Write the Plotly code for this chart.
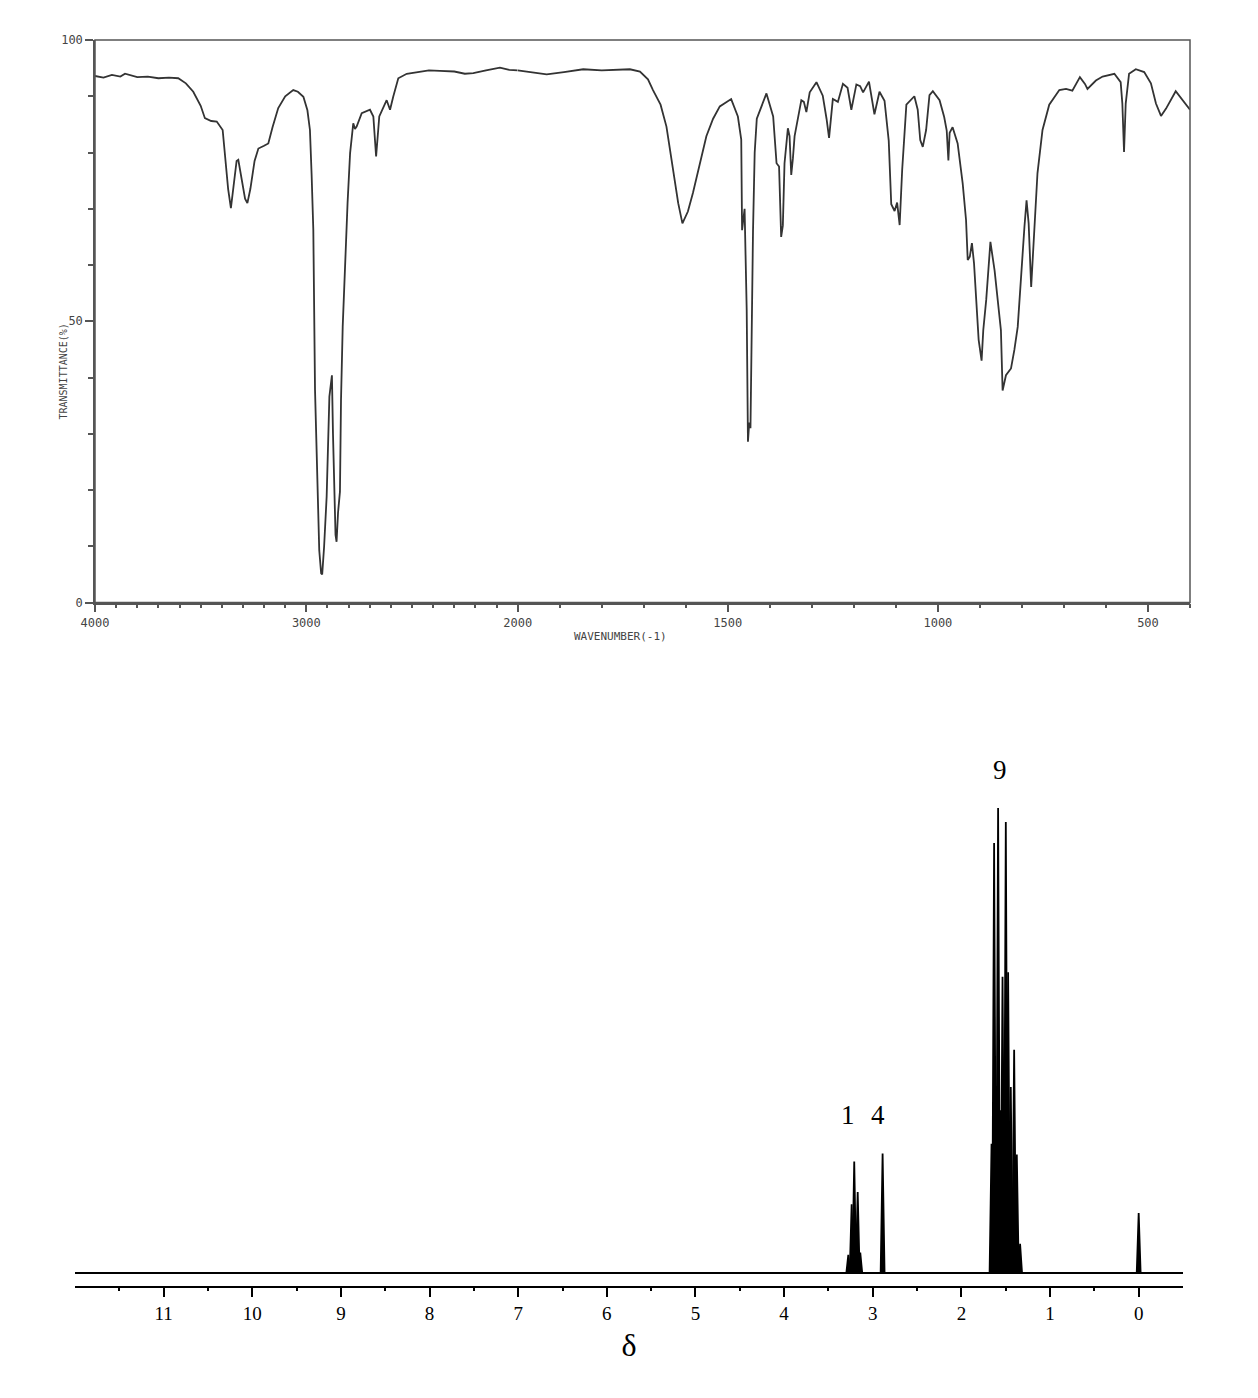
import plotly.graph_objects as go

# IR spectrum (wavenumber in cm-1, transmittance in %)
ir_wavenumber = [
    4000, 3960, 3920, 3880, 3858, 3800, 3750, 3700, 3650, 3606, 3570, 3535,
    3500, 3480, 3450, 3424, 3396, 3385, 3370, 3357, 3345, 3330, 3322, 3305,
    3290, 3279, 3265, 3245, 3227, 3200, 3180, 3160, 3133, 3100, 3062, 3040,
    3014, 2995, 2983, 2975, 2967, 2959, 2948, 2939, 2930, 2925, 2916, 2904,
    2891, 2879, 2874, 2869, 2862, 2857, 2850, 2841, 2836, 2828, 2817, 2805,
    2793, 2778, 2770, 2762, 2738, 2699, 2683, 2670, 2660, 2655, 2620, 2604,
    2589, 2565, 2525, 2480, 2420, 2368, 2300, 2250, 2210, 2150, 2084, 2040,
    2000,
    1960, 1931, 1890, 1844, 1800, 1733, 1709, 1690, 1678, 1660, 1646, 1630,
    1618, 1608, 1595, 1583, 1565, 1551, 1535, 1519, 1492, 1476, 1468, 1466,
    1460, 1455, 1452, 1449, 1446, 1443, 1440, 1436, 1431, 1408, 1392, 1384,
    1378, 1373, 1369, 1365, 1357, 1353, 1349, 1345, 1341, 1325, 1319, 1313,
    1305, 1289, 1274, 1265, 1259, 1250, 1238, 1226, 1215, 1206, 1194, 1185,
    1178, 1164, 1151, 1139, 1127, 1117, 1111, 1103, 1097, 1091, 1085, 1075,
    1056, 1048, 1042, 1036, 1028, 1020, 1012, 996, 985, 979, 975, 972, 965,
    953, 941, 933, 929, 924, 919, 914, 906, 903, 896, 892, 885, 875, 865,
    853, 850, 846, 838, 826, 818, 810, 802, 794, 789, 784, 778, 773, 763,
    751, 735, 711, 695, 680, 662, 650, 644, 624, 608, 580, 565, 561, 557,
    553, 545, 529, 509, 493, 481, 469, 457, 434, 418, 400,
]
ir_transmittance = [
    93.6, 93.3, 93.8, 93.5, 94.0, 93.4, 93.5, 93.2, 93.3, 93.2, 92.3, 90.8,
    88.3, 86.1, 85.6, 85.5, 84.0, 79.3, 73.5, 70.1, 73.5, 78.5, 78.7, 75.0,
    71.8, 71.0, 73.5, 78.5, 80.7, 81.2, 81.6, 84.5, 87.9, 90.0, 91.1, 90.8,
    89.9, 87.5, 84.0, 76.0, 66.2, 37.8, 20.0, 9.3, 5.2, 5.0, 9.9, 18.8,
    36.6, 40.4, 30.0, 19.4, 12.0, 10.8, 16.0, 19.7, 36.0, 49.0, 60.3, 71.0,
    79.9, 85.2, 84.2, 84.6, 87.0, 87.6, 86.4, 79.3, 84.0, 86.4, 89.3, 87.6,
    89.9, 93.2, 94.0, 94.3, 94.6, 94.5, 94.4, 94.0, 94.1, 94.6, 95.1, 94.7,
    94.6,
    94.2, 93.9, 94.3, 94.8, 94.6, 94.8, 94.4, 93.0, 91.1, 88.5, 84.6, 76.9,
    71.0, 67.4, 69.5, 72.8, 78.5, 82.9, 86.0, 88.2, 89.5, 86.4, 82.3, 66.2,
    70.0, 52.0, 28.6, 32.0, 31.0, 50.0, 66.0, 80.0, 86.0, 90.5, 86.4, 78.1,
    77.5, 65.0, 67.0, 78.1, 84.3, 82.9, 76.0, 79.0, 82.9, 89.3, 89.0, 87.2,
    90.7, 92.5, 90.1, 86.0, 82.6, 89.5, 89.0, 92.2, 91.5, 87.6, 92.1, 91.8,
    90.7, 92.6, 86.8, 90.8, 89.2, 82.1, 70.8, 69.6, 71.1, 67.1, 76.9, 88.5,
    90.0, 87.6, 82.2, 81.0, 84.0, 90.2, 90.9, 89.3, 86.3, 83.9, 78.6, 83.5, 84.5,
    81.6, 74.5, 68.0, 60.9, 61.5, 63.9, 60.3, 50.2, 46.7, 43.0, 48.4, 53.8, 64.1, 59.0,
    50.2, 48.4, 37.7, 40.4, 41.6, 44.9, 49.0, 58.5, 66.8, 71.5, 67.4, 56.1, 63.2, 76.3,
    84.0, 88.5, 91.1, 91.3, 91.0, 93.4, 92.2, 91.3, 92.8, 93.5, 94.0, 92.5, 88.7, 80.1,
    88.7, 94.0, 94.8, 94.3, 92.3, 88.7, 86.5, 87.8, 90.9, 89.3, 87.6,
]

# 1H NMR lines (chemical shift in ppm, height relative to tallest = 100)
nmr_shift = [
    3.276, 3.238, 3.209, 3.170, 3.141,
    2.889,
    1.660, 1.631, 1.586, 1.563, 1.536, 1.499, 1.473, 1.443, 1.405, 1.375, 1.338,
    0.000,
]
nmr_height = [
    3.9, 14.8, 24.0, 17.4, 4.4,
    25.7,
    27.8, 92.5, 100.0, 35.0, 63.7, 97.0, 64.7, 40.0, 48.0, 25.5, 6.3,
    12.9,
]
nmr_labels = ["1", "4", "9"]
nmr_label_shift = [3.28, 2.94, 1.567]
nmr_label_height = [34.0, 34.0, 108.2]

W, H = 1258, 1398
OFF = 8  # the page body puts the figure 8 px in from the corner


def fx(p):
    return (p - OFF) / W


def fy(p):
    return 1 - (p - OFF) / H


IR_X0, IR_XS, IR_X1 = fx(95), fx(517.7), fx(1190)
IR_Y = [fy(602.5), fy(40)]
NMR_X = [fx(75), fx(1183)]
NMR_Y = [fy(1286), fy(750)]

IR_FONT = dict(family="DejaVu Sans Mono", size=12, color="#444")
SERIF = "Liberation Serif"
LINE = "#333"

# split the IR trace at 2000 cm-1, where the scale changes
hi = [(w, t) for w, t in zip(ir_wavenumber, ir_transmittance) if w >= 2000]
lo = [(w, t) for w, t in zip(ir_wavenumber, ir_transmittance) if w <= 2000]

fig = go.Figure()
fig.add_trace(go.Scatter(
    x=[p[0] for p in hi], y=[p[1] for p in hi], mode="lines",
    line=dict(color=LINE, width=1.8), xaxis="x", yaxis="y",
))
fig.add_trace(go.Scatter(
    x=[p[0] for p in lo], y=[p[1] for p in lo], mode="lines",
    line=dict(color=LINE, width=1.8), xaxis="x2", yaxis="y",
))

# NMR lines drawn as narrow filled peaks
half = 0.022
px, py = [], []
for s, h in zip(nmr_shift, nmr_height):
    px += [s + half, s, s - half, None]
    py += [0, h, 0, None]
fig.add_trace(go.Scatter(
    x=px, y=py, mode="lines", fill="toself", fillcolor="black",
    line=dict(color="black", width=1.8), xaxis="x3", yaxis="y3",
))

ir_axis = dict(
    showline=True, linecolor="#555", linewidth=1.5, ticks="outside",
    ticklen=8, tickcolor="#555", tickwidth=1.5, showgrid=False,
    zeroline=False, tickfont=IR_FONT, anchor="y", automargin=False,
)
fig.update_layout(
    width=W, height=H, showlegend=False,
    margin=dict(l=0, r=0, t=0, b=0, pad=0, autoexpand=False),
    paper_bgcolor="white", plot_bgcolor="white",
    xaxis=dict(
        ir_axis, domain=[IR_X0, IR_XS], range=[4000, 2000],
        tickmode="array", tickvals=[4000, 3500, 3000, 2500, 2000],
        ticktext=["4000", "", "3000", "", "2000"],
        minor=dict(tickmode="array", tickvals=list(range(3900, 2000, -100)),
                   ticklen=4, ticks="outside", tickcolor="#555"),
    ),
    xaxis2=dict(
        ir_axis, domain=[IR_XS, IR_X1], range=[2000, 400],
        tickmode="array", tickvals=[1500, 1000, 500],
        ticktext=["1500", "1000", "500"],
        minor=dict(tickmode="array", tickvals=list(range(1900, 399, -100)),
                   ticklen=4, ticks="outside", tickcolor="#555"),
    ),
    yaxis=dict(
        domain=IR_Y, range=[0, 100], anchor="x", automargin=False,
        showline=True, linecolor="#555", linewidth=1.5, ticks="outside",
        ticklen=8, tickcolor="#555", tickwidth=1.5, showgrid=False,
        zeroline=False, tickfont=IR_FONT,
        tickmode="array", tickvals=[0, 50, 100],
        minor=dict(tickmode="array", tickvals=list(range(10, 100, 10)),
                   ticklen=5, ticks="outside", tickcolor="#555"),
    ),
    xaxis3=dict(
        domain=NMR_X, range=[12, -0.5], anchor="y3", automargin=False,
        showline=True, linecolor="black", linewidth=2, ticks="outside",
        ticklen=9, tickwidth=2, tickcolor="black", showgrid=False,
        zeroline=False,
        tickmode="array", tickvals=list(range(0, 12)),
        tickfont=dict(family=SERIF, size=19, color="black"),
        minor=dict(tickmode="array", tickvals=[i + 0.5 for i in range(12)],
                   ticklen=3, ticks="outside", tickcolor="black", tickwidth=2),
        title=dict(text="δ", font=dict(family=SERIF, size=32, color="black"),
                   standoff=11),
    ),
    yaxis3=dict(
        domain=NMR_Y, range=[-2.8, 112.5], anchor="x3", automargin=False,
        visible=True, showline=False, showticklabels=False, ticks="",
        showgrid=False, zeroline=True, zerolinecolor="black",
        zerolinewidth=2,
    ),
)

# frame round the IR panel
fig.add_shape(type="rect", xref="paper", yref="paper",
              x0=IR_X0, x1=IR_X1, y0=IR_Y[0], y1=IR_Y[1],
              line=dict(color="#555", width=1.5))

fig.add_annotation(text="TRANSMITTANCE(%)", xref="paper", yref="paper",
                   x=fx(55), y=fy(322), textangle=-90, showarrow=False,
                   font=dict(family="DejaVu Sans Mono", size=10, color="#444"))
fig.add_annotation(text="WAVENUMBER(-1)", xref="paper", yref="paper",
                   x=fx(620), y=fy(636), showarrow=False,
                   font=dict(family="DejaVu Sans Mono", size=11, color="#444"))

for t, s, h in zip(nmr_labels, nmr_label_shift, nmr_label_height):
    fig.add_annotation(text=t, x=s, y=h, xref="x3", yref="y3",
                       showarrow=False,
                       font=dict(family=SERIF, size=27, color="black"))

fig.write_html("out.html")
